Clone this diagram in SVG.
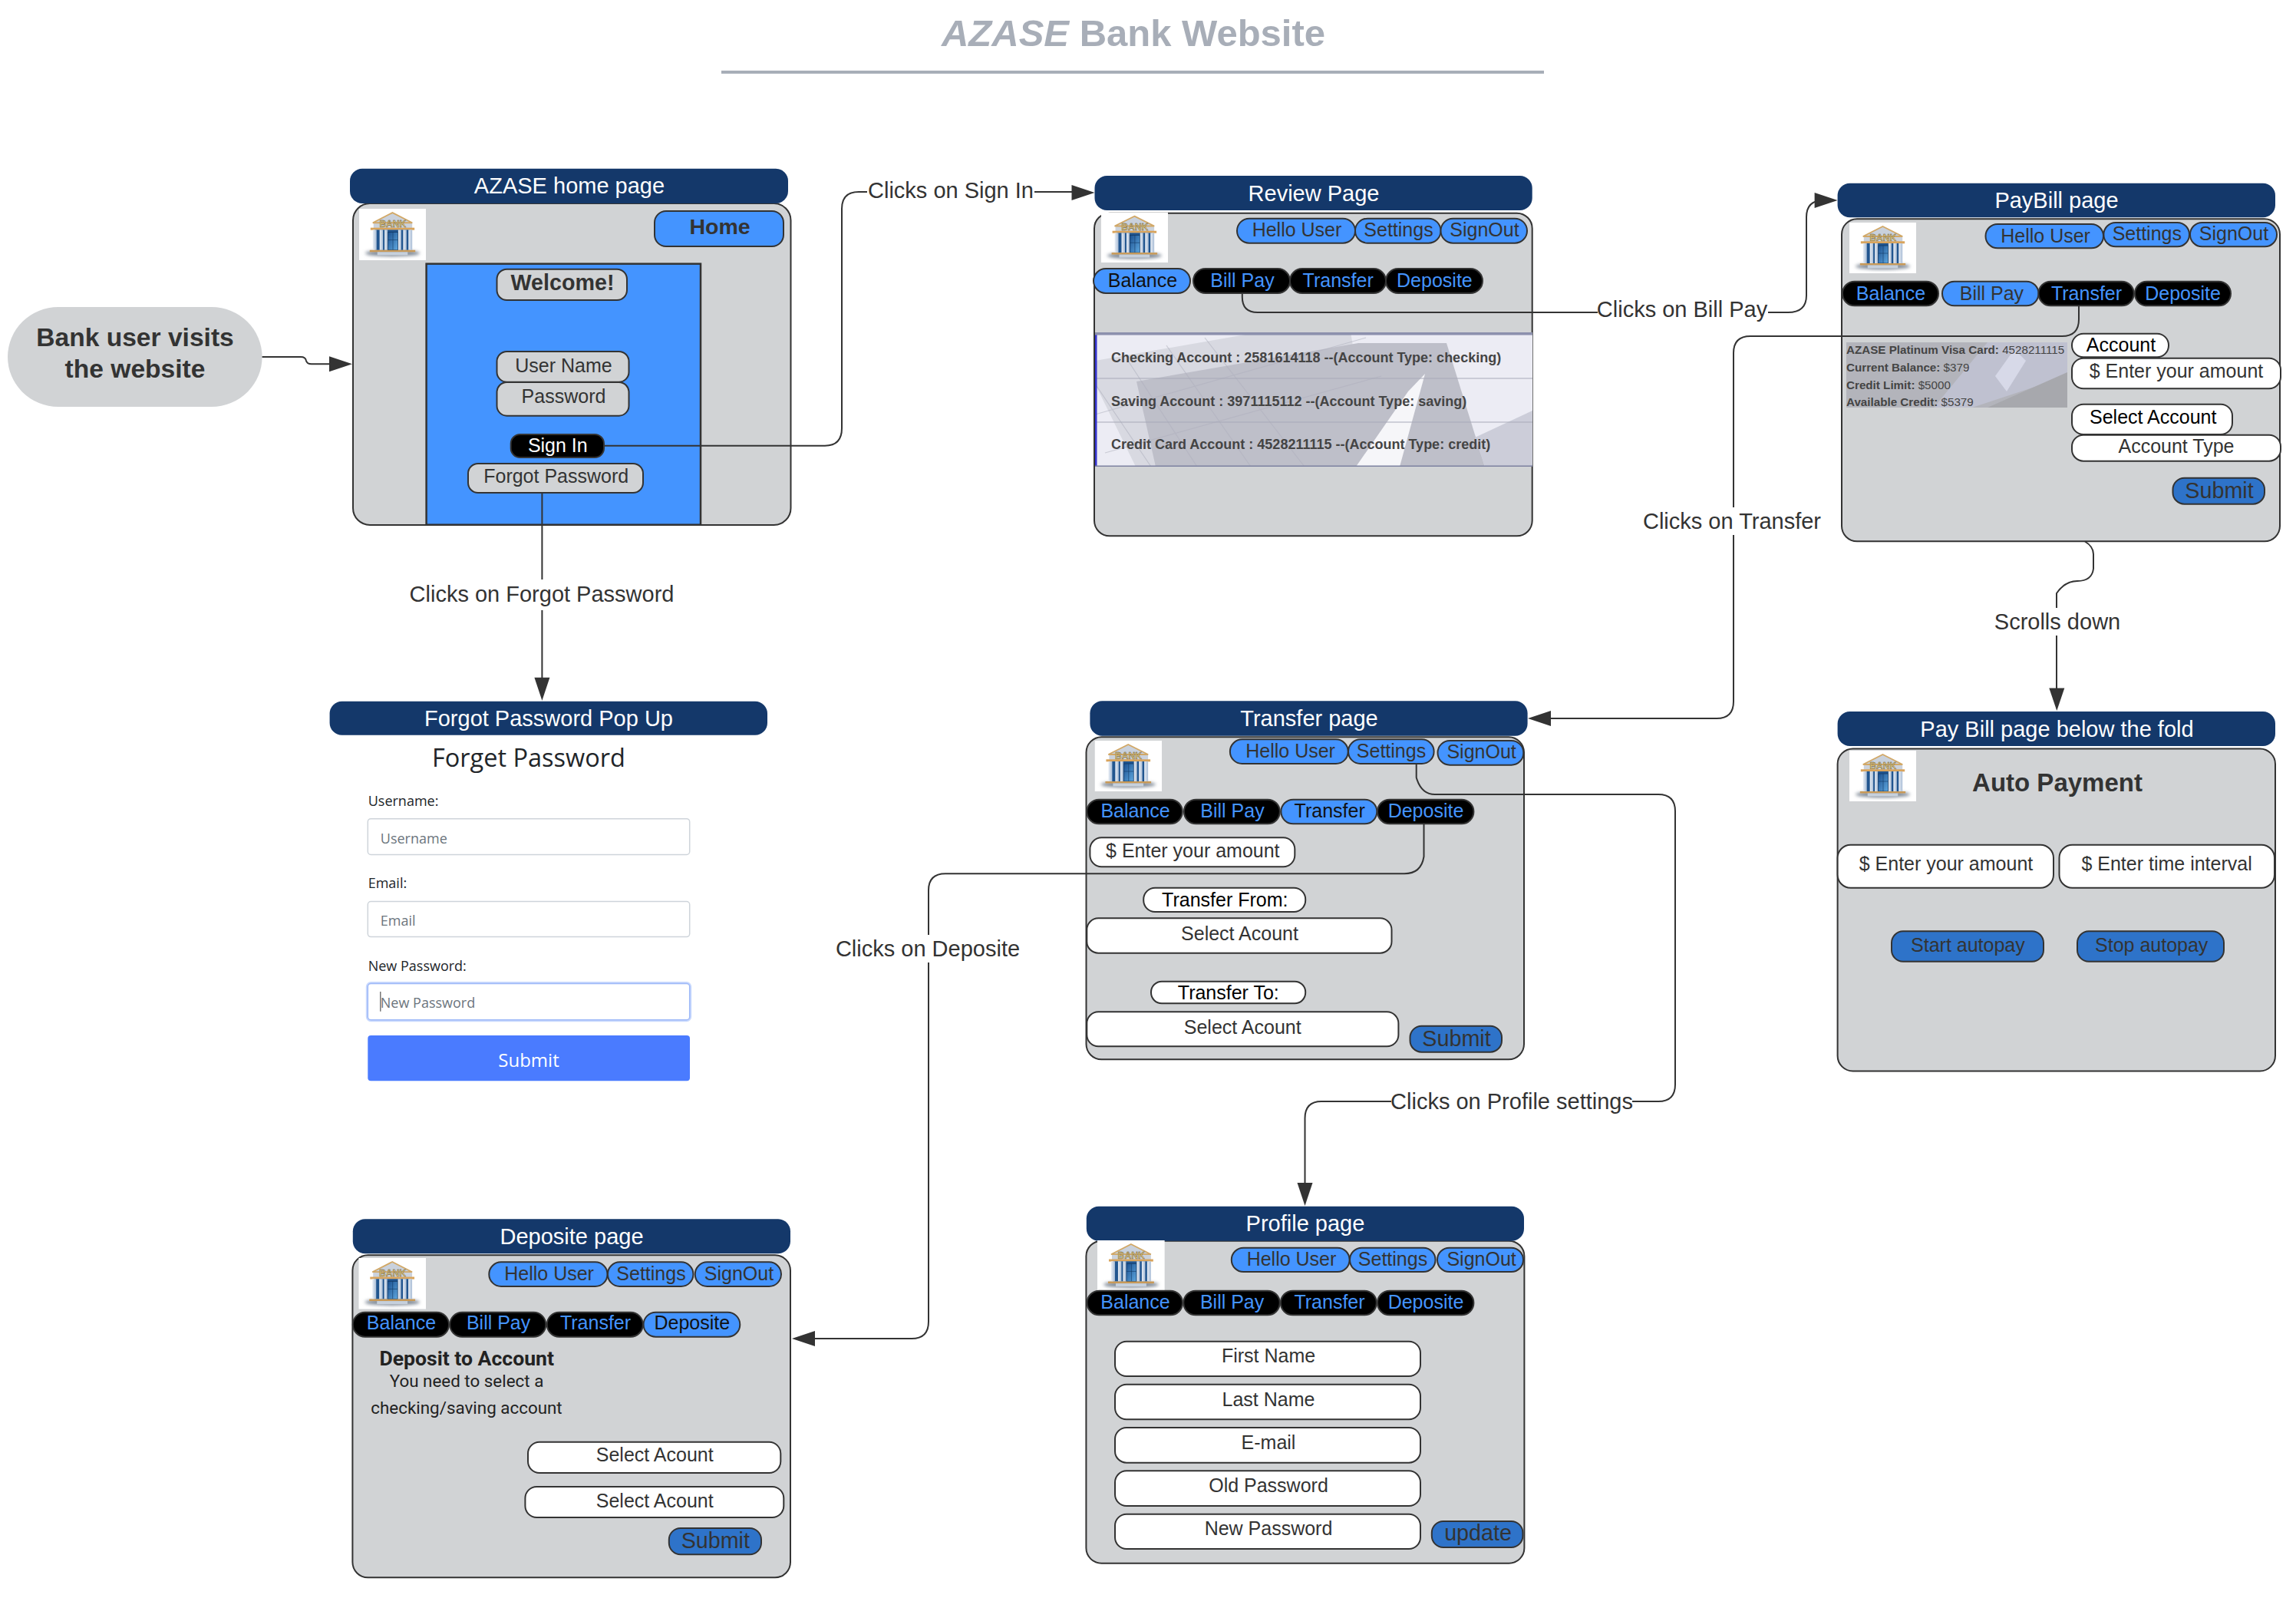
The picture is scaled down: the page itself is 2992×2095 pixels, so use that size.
<svg xmlns="http://www.w3.org/2000/svg" width="2992" height="2095" viewBox="0 0 2992 2095">
<style>
text{font-family:"Liberation Sans",Arial,sans-serif;text-anchor:middle;fill:#333;font-size:25px}
.hdr{fill:#14386a}
.panel{fill:#d1d3d5;stroke:#333;stroke-width:2}
.pb{fill:#4494ff;stroke:#333;stroke-width:2}
.pk{fill:#000;stroke:#333;stroke-width:2}
.pw{fill:#fff;stroke:#333;stroke-width:2}
.pg{fill:#d1d3d5;stroke:#333;stroke-width:2}
.ps{fill:#2e73c9;stroke:#333;stroke-width:2}
text.hd{fill:#fff;font-size:29px}
text.bl{fill:#4494ff}
text.dk{fill:#111}
text.wh{fill:#fff}
text.sb{font-size:28.7px}
text.lb{font-size:29px}
text.acc{font-weight:bold;font-size:18px;text-anchor:start;fill:#444}
text.card{font-size:15.2px;text-anchor:start;fill:#444}
text.fl{font-family:"Open Sans",sans-serif;font-size:18px;text-anchor:start;fill:#212529}
text.fp{font-family:"Open Sans",sans-serif;font-size:18px;text-anchor:start;fill:#6c757d}
.inp{fill:#fff;stroke:#ced4da;stroke-width:1.5}
.cn{fill:none;stroke:#333;stroke-width:2}
.lbg{fill:#fff}
.arr{fill:#333}
</style>
<defs>
<linearGradient id="col" x1="0" x2="1" y1="0" y2="0"><stop offset="0" stop-color="#e9eef5"/><stop offset="1" stop-color="#a9bdd6"/></linearGradient>
<linearGradient id="glass" x1="0" x2="1" y1="0" y2="1"><stop offset="0" stop-color="#1a4f8f"/><stop offset="1" stop-color="#5fa8df"/></linearGradient>
<filter id="soft" x="-30%" y="-100%" width="160%" height="300%"><feGaussianBlur stdDeviation="2.2"/></filter>
<clipPath id="revclip"><rect x="1427" y="433" width="570" height="175"/></clipPath>
<clipPath id="cardclip"><rect x="2406" y="446" width="288" height="85"/></clipPath>
<symbol id="bank" viewBox="0 0 88 66" preserveAspectRatio="none">
<rect width="88" height="66" fill="#fff"/>
<ellipse cx="44" cy="57" rx="36" ry="4" fill="#7d8794" filter="url(#soft)"/>
<rect x="19" y="17" width="51" height="8" fill="#cbd2dc"/>
<polygon points="44,5 70,18 18,18" fill="#c9d1dc" stroke="#d2a866" stroke-width="1.8"/>
<text x="44.3" y="24" style="font-size:12.2px;font-weight:bold;fill:#dcc27a;stroke:#4b4026;stroke-width:.35px">BANK</text>
<rect x="15" y="24.3" width="58" height="3" fill="#d9a45c"/>
<rect x="21" y="27" width="46" height="26" fill="#21558f"/>
<rect x="38" y="30" width="13" height="23" fill="url(#glass)" stroke="#123a66" stroke-width=".8"/>
<path d="M44.5 30V53M38 40H51" stroke="#123a66" stroke-width=".6"/>
<rect x="18" y="27" width="5" height="26" fill="url(#col)"/>
<rect x="27" y="27" width="4.5" height="26" fill="url(#col)"/>
<rect x="33.5" y="27" width="4" height="26" fill="url(#col)"/>
<rect x="51.5" y="27" width="4" height="26" fill="url(#col)"/>
<rect x="58" y="27" width="4.5" height="26" fill="url(#col)"/>
<rect x="65" y="27" width="5" height="26" fill="url(#col)"/>
<rect x="14" y="53" width="60" height="2.5" fill="#c99a57"/>
<rect x="24" y="55.5" width="40" height="4" fill="#c6d0dc"/>
</symbol>
</defs>

<g id="title">
<text x="1477" y="59.5" style="font-size:49px;font-weight:bold;fill:#a8aeb8"><tspan font-style="italic">AZASE</tspan> Bank Website</text>
<line x1="940" y1="94" x2="2012" y2="94" stroke="#a8aeb8" stroke-width="4"/>
</g>

<g id="start">
<rect x="10" y="400" width="331.6" height="130" rx="66" fill="#d1d3d5"/>
<text x="176" y="451" style="font-size:33.6px;font-weight:bold">Bank user visits</text>
<text x="176" y="492" style="font-size:33.6px;font-weight:bold">the website</text>
</g>

<g id="home-page">
<rect class="panel" x="460" y="265" width="570.5" height="419" rx="22"/>
<rect class="hdr" x="456" y="219.7" width="571" height="45.3" rx="16"/>
<text class="hd" x="742" y="252">AZASE home page</text>
<use href="#bank" x="468" y="272" width="87" height="67"/>
<rect class="pb" x="853" y="275" width="168" height="46" rx="15"/>
<text x="938" y="305" style="font-size:28.5px;font-weight:bold">Home</text>
<rect x="555.6" y="343.7" width="357.4" height="340" fill="#4494ff" stroke="#333" stroke-width="2.5"/>
<rect class="pg" x="647.5" y="350.7" width="169.5" height="40.3" rx="13"/>
<text x="733" y="378" style="font-size:28.7px;font-weight:bold">Welcome!</text>
<rect class="pg" x="647.5" y="458" width="172" height="39.7" rx="13"/>
<text x="734.5" y="485">User Name</text>
<rect class="pg" x="647.5" y="498" width="172" height="43.7" rx="13"/>
<text x="734.5" y="525">Password</text>
<rect class="pk" x="665.7" y="566" width="121.3" height="30" rx="12"/>
<text class="wh" x="726.8" y="589">Sign In</text>
<rect class="pg" x="610" y="604" width="228" height="38" rx="13"/>
<text x="724.7" y="629">Forgot Password</text>
</g>

<g id="review-page">
<rect class="panel" x="1426" y="277.7" width="570.7" height="420.6" rx="20"/>
<rect class="hdr" x="1426.5" y="229" width="570.2" height="45" rx="16"/>
<text class="hd" x="1712" y="261.7">Review Page</text>
<use href="#bank" x="1434.7" y="276.7" width="87.3" height="65.3"/>
<rect class="pb" x="1612" y="284.7" width="154" height="32" rx="16"/><text x="1690" y="308">Hello User</text>
<rect class="pb" x="1766" y="284.7" width="111.5" height="32" rx="16"/><text x="1822.5" y="308">Settings</text>
<rect class="pb" x="1877.5" y="284.7" width="112.5" height="32" rx="16"/><text x="1934.5" y="308">SignOut</text>
<rect class="pb" x="1425" y="350" width="126" height="32" rx="16"/><text class="dk" x="1489" y="374">Balance</text>
<rect class="pk" x="1555" y="350" width="126" height="32" rx="16"/><text class="bl" x="1619" y="374">Bill Pay</text>
<rect class="pk" x="1681" y="350" width="125" height="32" rx="16"/><text class="bl" x="1743.7" y="374">Transfer</text>
<rect class="pk" x="1806" y="350" width="126" height="32" rx="16"/><text class="bl" x="1869.4" y="374">Deposite</text>
<g clip-path="url(#revclip)">
<rect x="1427" y="433" width="570" height="175" fill="#e2e3ee"/>
<polygon points="1427,500 1427,470 1640,433 1760,433 1790,608 1480,608" fill="#c4c6d2"/>
<polygon points="1481,497 1770,447 1885,447 1935,608 1506,608" fill="#9d9eae"/>
<polygon points="1857,487 1824,608 1767,608 1835,510" fill="#f2f2f6"/>
<polygon points="1935,608 1922,570 1997,535 1997,608" fill="#b2b4c6"/>
<path d="M1427 500L1500 608M1470 470L1560 608M1520 450L1630 608M1570 440L1700 608M1427 540L1780 440M1440 590L1800 490" stroke="#85869a" stroke-width="1.2" fill="none" opacity=".55"/>
<rect x="1429" y="437" width="568" height="170" rx="3" fill="#fff" opacity=".34"/>
<line x1="1429" y1="493" x2="1997" y2="493" stroke="#a7a9b8" stroke-width="1"/>
<line x1="1429" y1="550" x2="1997" y2="550" stroke="#a7a9b8" stroke-width="1"/>
<rect x="1427" y="433" width="2.5" height="175" fill="#3434cf"/>
<rect x="1427" y="433" width="570" height="3.5" fill="#8c90ad"/>
<rect x="1427" y="606.5" width="570" height="1.5" fill="#7d81a0"/>
</g>
<text class="acc" x="1448" y="471.7">Checking Account : 2581614118 --(Account Type: checking)</text>
<text class="acc" x="1448" y="528.7">Saving Account : 3971115112 --(Account Type: saving)</text>
<text class="acc" x="1448" y="585">Credit Card Account : 4528211115 --(Account Type: credit)</text>
</g>

<g id="paybill-page">
<rect class="panel" x="2400" y="285.3" width="571" height="420" rx="20"/>
<rect class="hdr" x="2394.6" y="238.7" width="570.4" height="44.6" rx="16"/>
<text class="hd" x="2680" y="270.7">PayBill page</text>
<use href="#bank" x="2410" y="290" width="87" height="66"/>
<rect class="pb" x="2587.5" y="292" width="153.5" height="31.3" rx="15.6"/><text x="2665.6" y="316">Hello User</text>
<rect class="pb" x="2741.4" y="290" width="111.6" height="31.3" rx="15.6"/><text x="2797.8" y="313.3">Settings</text>
<rect class="pb" x="2854" y="290" width="113" height="31.3" rx="15.6"/><text x="2911" y="313.3">SignOut</text>
<rect class="pk" x="2401" y="366.7" width="125" height="31.6" rx="15.8"/><text class="bl" x="2464" y="390.7">Balance</text>
<rect class="pb" x="2531" y="366.7" width="125.5" height="31.6" rx="15.8"/><text x="2595.4" y="390.7">Bill Pay</text>
<rect class="pk" x="2656.5" y="366.7" width="124.2" height="31.6" rx="15.8"/><text class="bl" x="2719" y="390.7">Transfer</text>
<rect class="pk" x="2782" y="366.7" width="125" height="31.6" rx="15.8"/><text class="bl" x="2844.6" y="390.7">Deposite</text>
<g clip-path="url(#cardclip)">
<rect x="2406" y="446" width="288" height="85" fill="#b3b4bb"/>
<polygon points="2590,446 2694,446 2694,490 2570,531 2520,531" fill="#bfc1d0"/>
<polygon points="2600,490 2625,455 2640,470 2615,510" fill="#d7d9e8"/>
<polygon points="2590,531 2694,485 2694,531" fill="#a7a8ad"/>
</g>
<text class="card" x="2406" y="461"><tspan font-weight="bold">AZASE Platinum Visa Card:</tspan> 4528211115</text>
<text class="card" x="2406" y="484"><tspan font-weight="bold">Current Balance:</tspan> $379</text>
<text class="card" x="2406" y="506.7"><tspan font-weight="bold">Credit Limit:</tspan> $5000</text>
<text class="card" x="2406" y="529"><tspan font-weight="bold">Available Credit:</tspan> $5379</text>
<rect class="pw" x="2700" y="434.7" width="126" height="30.6" rx="15"/><text x="2764" y="458" style="fill:#000">Account</text>
<rect class="pw" x="2700" y="466.7" width="272" height="39.6" rx="15"/><text x="2836" y="492">$ Enter your amount</text>
<rect class="pw" x="2700" y="526.7" width="209" height="39.3" rx="15"/><text x="2805.7" y="551.7" style="fill:#000">Select Account</text>
<rect class="pw" x="2700" y="566.7" width="272" height="34" rx="15"/><text x="2836" y="590">Account Type</text>
<rect class="ps" x="2831.5" y="622.7" width="119.5" height="34" rx="15"/><text class="sb" x="2892" y="649.3">Submit</text>
</g>

<g id="forgot-popup">
<rect class="hdr" x="429.6" y="913.8" width="570.4" height="44" rx="16"/>
<text class="hd" x="715" y="945.5">Forgot Password Pop Up</text>
<text x="689" y="999.2" style="font-family:'Open Sans',sans-serif;font-size:32.5px;fill:#212529">Forget Password</text>
<text class="fl" x="479.7" y="1049.8">Username:</text>
<rect class="inp" x="479.3" y="1066.7" width="419.4" height="46.8" rx="4"/>
<text class="fp" x="495.8" y="1098.7">Username</text>
<text class="fl" x="479.7" y="1157.2">Email:</text>
<rect class="inp" x="479.3" y="1174.5" width="419.4" height="46.1" rx="4"/>
<text class="fp" x="495.8" y="1205.8">Email</text>
<text class="fl" x="479.7" y="1265">New Password:</text>
<rect x="479.3" y="1281.5" width="419.4" height="47.2" rx="4" fill="#fff" stroke="#c9d9fd" stroke-width="5"/>
<rect x="479.3" y="1281.5" width="419.4" height="47.2" rx="4" fill="#fff" stroke="#9db8f8" stroke-width="1.5"/>
<line x1="495.8" y1="1291.9" x2="495.8" y2="1317.7" stroke="#555" stroke-width="1.2"/>
<text class="fp" x="495.8" y="1313.2">New Password</text>
<rect x="479.3" y="1349" width="419.7" height="59.3" rx="4" fill="#4a7bff"/>
<text x="689" y="1389.7" style="font-family:'Open Sans',sans-serif;font-size:24px;fill:#fff">Submit</text>
</g>

<g id="transfer-page">
<rect class="panel" x="1415.5" y="960.3" width="570.5" height="420" rx="20"/>
<rect class="hdr" x="1420.4" y="913.3" width="570.2" height="45.4" rx="16"/>
<text class="hd" x="1706" y="945.7">Transfer page</text>
<use href="#bank" x="1426.5" y="965" width="87.5" height="66"/>
<rect class="pb" x="1602.9" y="963.3" width="153.8" height="31.7" rx="15.8"/><text x="1681.6" y="987">Hello User</text>
<rect class="pb" x="1757" y="963.3" width="111.6" height="31.7" rx="15.8"/><text x="1813" y="987">Settings</text>
<rect class="pb" x="1873.5" y="965" width="111.8" height="31.7" rx="15.8"/><text x="1930.6" y="988">SignOut</text>
<rect class="pk" x="1416.3" y="1041.7" width="124.5" height="31.6" rx="15.8"/><text class="bl" x="1479.6" y="1065">Balance</text>
<rect class="pk" x="1542.9" y="1041.7" width="124.9" height="31.6" rx="15.8"/><text class="bl" x="1606" y="1065">Bill Pay</text>
<rect class="pb" x="1669.4" y="1041.7" width="124.9" height="31.6" rx="15.8"/><text class="dk" x="1732.7" y="1065">Transfer</text>
<rect class="pk" x="1795" y="1041.7" width="125.4" height="31.6" rx="15.8"/><text class="bl" x="1858" y="1065">Deposite</text>
<rect class="pw" x="1420.4" y="1091.3" width="266.9" height="38" rx="15"/><text x="1554.3" y="1116.7">$ Enter your amount</text>
<rect class="pw" x="1490.2" y="1156.7" width="211" height="31.3" rx="15"/><text x="1596.3" y="1180.7" style="fill:#000">Transfer From:</text>
<rect class="pw" x="1416.3" y="1196.3" width="397.2" height="45.4" rx="15"/><text x="1615.5" y="1225">Select Acount</text>
<rect class="pw" x="1500" y="1278.7" width="201.2" height="28.6" rx="14"/><text x="1600.8" y="1301.7" style="fill:#000">Transfer To:</text>
<rect class="pw" x="1416.3" y="1318.3" width="406.1" height="45" rx="15"/><text x="1619.2" y="1346.7">Select Acount</text>
<rect class="ps" x="1837.5" y="1336.7" width="119.5" height="34" rx="15"/><text class="sb" x="1898" y="1362.7">Submit</text>
</g>

<g id="autopay-page">
<rect class="panel" x="2394.6" y="975.5" width="570.4" height="420" rx="20"/>
<rect class="hdr" x="2394.6" y="927" width="570.4" height="45" rx="16"/>
<text class="hd" x="2680.5" y="960">Pay Bill page below the fold</text>
<use href="#bank" x="2410" y="978" width="87" height="66"/>
<text x="2681" y="1030.6" style="font-size:33px;font-weight:bold">Auto Payment</text>
<rect class="pw" x="2394.6" y="1100.8" width="281.4" height="56" rx="17"/><text x="2536" y="1134">$ Enter your amount</text>
<rect class="pw" x="2683.5" y="1100.8" width="280.5" height="56" rx="17"/><text x="2823.6" y="1134">$ Enter time interval</text>
<rect class="ps" x="2465" y="1213.3" width="198" height="39.5" rx="15"/><text x="2564.4" y="1239.5">Start autopay</text>
<rect class="ps" x="2707" y="1213.3" width="191" height="39.5" rx="15"/><text x="2803.7" y="1239.5">Stop autopay</text>
</g>

<g id="deposite-page">
<rect class="panel" x="459.4" y="1635.3" width="570.6" height="420" rx="20"/>
<rect class="hdr" x="459.8" y="1588.3" width="570.2" height="45" rx="16"/>
<text class="hd" x="745" y="1621">Deposite page</text>
<use href="#bank" x="467.3" y="1639" width="87.7" height="66.7"/>
<rect class="pb" x="637.3" y="1644.3" width="154.2" height="31.7" rx="15.8"/><text x="715.6" y="1667.7">Hello User</text>
<rect class="pb" x="791.9" y="1644.3" width="111.5" height="31.7" rx="15.8"/><text x="848.5" y="1667.7">Settings</text>
<rect class="pb" x="905.8" y="1644.3" width="112.2" height="31.7" rx="15.8"/><text x="963" y="1667.7">SignOut</text>
<rect class="pk" x="459.8" y="1709.7" width="125.2" height="32" rx="16"/><text class="bl" x="523" y="1732.3">Balance</text>
<rect class="pk" x="586.3" y="1709.7" width="125" height="32" rx="16"/><text class="bl" x="649.6" y="1732.3">Bill Pay</text>
<rect class="pk" x="712.8" y="1709.7" width="125" height="32" rx="16"/><text class="bl" x="776" y="1732.3">Transfer</text>
<rect class="pb" x="838.6" y="1709.7" width="125.7" height="32" rx="16"/><text class="dk" x="901.8" y="1732.3">Deposite</text>
<text x="608.2" y="1779" style="font-family:Roboto,sans-serif;font-size:26.6px;font-weight:bold;fill:#222">Deposit to Account</text>
<text x="608" y="1807" style="font-family:Roboto,sans-serif;font-size:22.4px;fill:#222">You need to select a</text>
<text x="608" y="1841.7" style="font-family:Roboto,sans-serif;font-size:22.4px;fill:#222">checking/saving account</text>
<rect class="pw" x="688" y="1878.7" width="329.3" height="40.3" rx="15"/><text x="853.2" y="1904">Select Acount</text>
<rect class="pw" x="684.4" y="1937" width="336.9" height="40" rx="15"/><text x="853.2" y="1964">Select Acount</text>
<rect class="ps" x="871.8" y="1991" width="120.2" height="34.3" rx="15"/><text class="sb" x="932.3" y="2016.7">Submit</text>
</g>

<g id="profile-page">
<rect class="panel" x="1415.4" y="1616.7" width="571" height="420" rx="20"/>
<rect class="hdr" x="1415.8" y="1571.7" width="570.2" height="45" rx="16"/>
<text class="hd" x="1701" y="1603.7">Profile page</text>
<use href="#bank" x="1430" y="1616" width="87.8" height="66.7"/>
<rect class="pb" x="1604.8" y="1625.7" width="153.8" height="31.3" rx="15.6"/><text x="1683" y="1649">Hello User</text>
<rect class="pb" x="1759" y="1625.7" width="111.5" height="31.3" rx="15.6"/><text x="1815" y="1649">Settings</text>
<rect class="pb" x="1873" y="1625.7" width="112" height="31.3" rx="15.6"/><text x="1930.6" y="1649">SignOut</text>
<rect class="pk" x="1416.6" y="1681.7" width="124.4" height="31.6" rx="15.8"/><text class="bl" x="1479.5" y="1705">Balance</text>
<rect class="pk" x="1542.3" y="1681.7" width="125.4" height="31.6" rx="15.8"/><text class="bl" x="1605.6" y="1705">Bill Pay</text>
<rect class="pk" x="1668.9" y="1681.7" width="124.9" height="31.6" rx="15.8"/><text class="bl" x="1732.5" y="1705">Transfer</text>
<rect class="pk" x="1795" y="1681.7" width="125.4" height="31.6" rx="15.8"/><text class="bl" x="1858" y="1705">Deposite</text>
<rect class="pw" x="1453" y="1747.7" width="398" height="45.3" rx="15"/><text x="1653" y="1775">First Name</text>
<rect class="pw" x="1453" y="1803.7" width="398" height="45.6" rx="15"/><text x="1653" y="1831.7">Last Name</text>
<rect class="pw" x="1453" y="1860" width="398" height="45.7" rx="15"/><text x="1653" y="1887.7">E-mail</text>
<rect class="pw" x="1453" y="1916.3" width="398" height="45.7" rx="15"/><text x="1653" y="1944">Old Password</text>
<rect class="pw" x="1453" y="1972.7" width="398" height="45.3" rx="15"/><text x="1653" y="2000">New Password</text>
<rect class="ps" x="1865.8" y="1982" width="118.6" height="34" rx="15"/><text class="sb" x="1926" y="2006.7">update</text>
</g>

<g id="connectors">
<path class="cn" d="M341.6 465H392Q398 465 399 470Q400 474.3 406 474.3H432"/>
<polygon class="arr" points="459,474.3 429,464.3 429,484.3"/>
<path class="cn" d="M787 580.7H1075Q1097 580.7 1097 558V272Q1097 250 1119 250H1400"/>
<polygon class="arr" points="1426.5,251 1396.5,241 1396.5,261"/>
<path class="cn" d="M706.4 642V885"/>
<polygon class="arr" points="706.4,912.7 696.4,882.7 716.4,882.7"/>
<path class="cn" d="M1618.8 382V387Q1618.8 407 1638.8 407H2330Q2354 407 2354 385V283Q2354 261 2376 261"/>
<polygon class="arr" points="2394.6,261 2364.6,251 2364.6,271"/>
<path class="cn" d="M2709 398V416Q2709 438 2687 438H2281Q2259 438 2259 460V914Q2259 936 2237 936H2018"/>
<polygon class="arr" points="1991,936 2021,926 2021,946"/>
<path class="cn" d="M2717 705.5Q2728 712 2728 722V741Q2726 757 2707 757Q2691 757 2680 773V900"/>
<polygon class="arr" points="2680.3,926 2670.3,896.5 2690.3,896.5"/>
<path class="cn" d="M1845.7 995V1013Q1852 1035 1870 1035H2161Q2183 1035 2183 1057V1413Q2183 1435 2161 1435H1722Q1700.5 1435 1700.5 1457V1545"/>
<polygon class="arr" points="1700.5,1571 1690.5,1541 1710.5,1541"/>
<path class="cn" d="M1855.5 1073.3V1116Q1852 1138.3 1830 1138.3H1232Q1210 1138.3 1210 1160V1722Q1210 1744 1188 1744H1060"/>
<polygon class="arr" points="1032,1744 1062,1734 1062,1754"/>
<g id="connector-labels">
<rect class="lbg" x="1130" y="230" width="218" height="36"/><text class="lb" x="1239" y="258">Clicks on Sign In</text>
<rect class="lbg" x="533" y="755" width="346" height="40"/><text class="lb" x="706" y="784">Clicks on Forgot Password</text>
<rect class="lbg" x="2082" y="385" width="222" height="36"/><text class="lb" x="2192" y="413">Clicks on Bill Pay</text>
<rect class="lbg" x="2139" y="661" width="238" height="36"/><text class="lb" x="2257" y="689">Clicks on Transfer</text>
<rect class="lbg" x="2597" y="792" width="168" height="36"/><text class="lb" x="2681" y="820">Scrolls down</text>
<rect class="lbg" x="1813" y="1417" width="314" height="36"/><text class="lb" x="1970" y="1445">Clicks on Profile settings</text>
<rect class="lbg" x="1089" y="1218" width="241" height="36"/><text class="lb" x="1209" y="1246">Clicks on Deposite</text>
</g>
</g>
</svg>
